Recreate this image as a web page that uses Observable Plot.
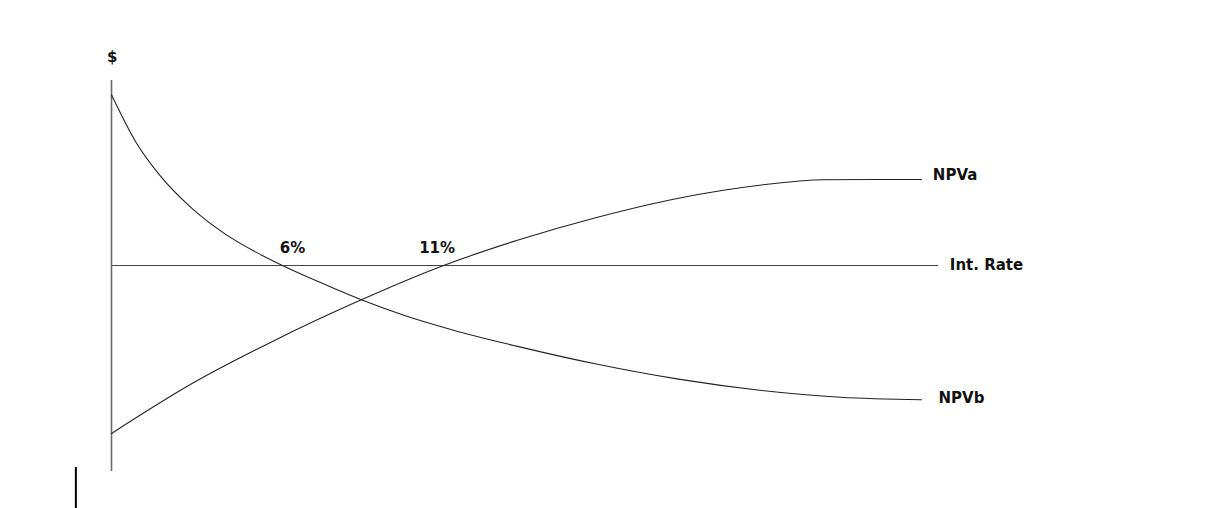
<!DOCTYPE html>
<html>
<head>
<meta charset="utf-8">
<script src="https://cdn.jsdelivr.net/npm/d3@7"></script>
<script src="https://cdn.jsdelivr.net/npm/@observablehq/plot@0.6"></script>
<style>
  html, body { margin: 0; padding: 0; background: #fff; }
  svg { display: block; }
</style>
</head>
<body>
<div id="chart"></div>
<script>
// Interest-rate position (sketch units, axis origin = 0) and NPV ($, sketch units)
const rateB = [0, 3, 6, 10, 14, 18, 21.1, 26, 31, 36, 42, 50, 60, 70, 80, 90, 100];
const npvB  = [98.7, 71.4, 51.9, 32.7, 18.3, 7.3, 0, -10.3, -20.1, -28.6, -37.1, -46.6, -57.1, -65.7, -72.1, -76.2, -77.6];

const rateA = [0, 10, 20, 30, 41, 50, 60, 70, 80, 88, 94, 100];
const npvA  = [-97.1, -68.1, -43.6, -21.6, 0, 14.4, 27.9, 38.9, 46.4, 49.6, 49.7, 49.7];

// Axis extents
const yAxisRange = [-119.08, 106.94];
const xAxisEnd = 102.1;

// Text labels
const labelTexts = ["6%", "11%"];
const labelRates = [22.35, 40.2];
const labelY = 9.8;

const endTexts = ["NPVa", "Int. Rate", "NPVb"];
const endRates = [101.4, 103.5, 102.1];
const endY = [52.0, 0, -76.9];

const axisTitle = "$";
const axisTitlePos = [0.1, 120.2];

// stray cursor stroke in the picture
const cursorX = [-4.4];
const cursorY = [-116.8, -140.5];

const seriesB = rateB.map((r, i) => ({r, v: npvB[i]}));
const seriesA = rateA.map((r, i) => ({r, v: npvA[i]}));
const midLabels = labelTexts.map((t, i) => ({t, r: labelRates[i], v: labelY}));
const ends = endTexts.map((t, i) => ({t, r: endRates[i], v: endY[i]}));

const font = "DejaVu Sans, Verdana, sans-serif";

const chart = Plot.plot({
  width: 1227,
  height: 508,
  marginLeft: 111,
  marginRight: 306,
  marginTop: 80,
  marginBottom: 37,
  x: {domain: [0, 100], axis: null},
  y: {domain: yAxisRange, axis: null},
  style: {background: "#fff", fontFamily: font},
  marks: [
    Plot.ruleY([0], {x1: 0, x2: xAxisEnd, stroke: "#444", strokeWidth: 1.2}),
    Plot.ruleX([0], {y1: yAxisRange[0], y2: yAxisRange[1], stroke: "#6a6a6a", strokeWidth: 1.6}),
    Plot.line(seriesB, {x: "r", y: "v", curve: "monotone-x", stroke: "#222", strokeWidth: 1.1}),
    Plot.line(seriesA, {x: "r", y: "v", curve: "monotone-x", stroke: "#222", strokeWidth: 1.1}),
    Plot.text(midLabels, {x: "r", y: "v", text: "t", fontSize: 15, fontWeight: "bold", fill: "#111"}),
    Plot.text(ends, {x: "r", y: "v", text: "t", textAnchor: "start", fontSize: 15, fontWeight: "bold", fill: "#111"}),
    Plot.text([axisTitle], {x: axisTitlePos[0], y: axisTitlePos[1], text: d => d, fontSize: 15, fontWeight: "bold", fill: "#111"}),
    Plot.ruleX(cursorX, {y1: cursorY[0], y2: cursorY[1], stroke: "#000", strokeWidth: 2})
  ]
});
document.getElementById("chart").appendChild(chart);
</script>
</body>
</html>
